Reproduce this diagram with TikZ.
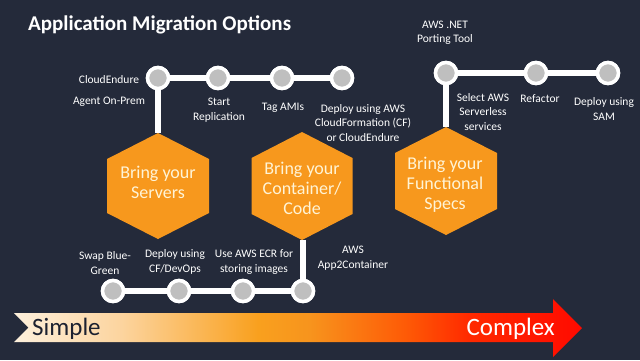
\documentclass[tikz,border=0pt]{standalone}
\usepackage{fontspec}
\setmainfont{Carlito}
\usetikzlibrary{calc}
\definecolor{bgnavy}{HTML}{242A3A}
\definecolor{dotgray}{HTML}{BFBFBF}
\definecolor{hexorange}{HTML}{F7981D}
\definecolor{hextext}{HTML}{FFF4D6}
\definecolor{sdark}{HTML}{1C2130}
\definecolor{gA}{HTML}{FDF0DC}
\definecolor{gB}{HTML}{FCD49E}
\definecolor{gC}{HTML}{F9A01E}
\definecolor{gD}{HTML}{F7941D}
\definecolor{gE}{HTML}{FE5A06}
\definecolor{gF}{HTML}{FF2A00}
\definecolor{gG}{HTML}{FF0A00}
\pgfdeclarehorizontalshading{migr}{100bp}{color(0bp)=(gA); color(25bp)=(gA); color(34.5bp)=(gB); color(46.5bp)=(gC); color(51bp)=(gD); color(59.5bp)=(gE); color(65bp)=(gF); color(75bp)=(gG); color(100bp)=(gG)}
\tikzset{
  dot/.style={circle, minimum size=21pt, inner sep=0pt, fill=dotgray, draw=white, line width=3.5pt},
  track/.style={draw=white, line width=6.5pt},
  lbl/.style={text=white, align=center, inner sep=0pt, font=\fontsize{11.5}{14.5}\selectfont},
  hexlbl/.style={text=hextext, align=center, inner sep=0pt, font=\fontsize{18}{20}\selectfont},
  hexshape/.style={fill=hexorange}
}
\begin{document}
\begin{tikzpicture}[x=1pt,y=-1pt]
\useasboundingbox (0,0) rectangle (640,360);
\fill[bgnavy] (0,0) rectangle (640,360);

% title
\node[anchor=base west, inner sep=0pt, text=white, font=\fontsize{21}{24}\selectfont\bfseries] (title) at (28,30) {Application Migration Options};

% dots
\node[dot] (a1) at (158,78) {};
\node[dot] (a2) at (218,78) {};
\node[dot] (a3) at (282,78) {};
\node[dot] (a4) at (342,78) {};
\node[dot] (f1) at (446,73) {};
\node[dot] (f2) at (536,73) {};
\node[dot] (f3) at (608,73) {};
\node[dot] (b1) at (113,291) {};
\node[dot] (b2) at (179,291) {};
\node[dot] (b3) at (243,291) {};
\node[dot] (b4) at (303,291) {};

\coordinate (servTop) at (158,133);
\coordinate (contBot) at (303,240);
\coordinate (funcTop) at (446,127);

% tracks
\draw[track] (a1.center) -- (a2.center) -- (a3.center) -- (a4.center);
\draw[track] (a1.center) -- (servTop);
\draw[track] (f1.center) -- (f2.center) -- (f3.center);
\draw[track] (f1.center) -- (funcTop);
\draw[track] (b1.center) -- (b2.center) -- (b3.center) -- (b4.center);
\draw[track] (b4.center) -- (contBot);
% redraw dots on top
\foreach \d in {a1,a2,a3,a4,f1,f2,f3,b1,b2,b3,b4}{
  \fill[dotgray] (\d) circle (10.5pt);
  \draw[white, line width=3.5pt] (\d) circle (10.5pt);
}

% hexagons
\fill[hexshape, shift={(158,186)}] (0,-53) -- (51,-27) -- (51,27) -- (0,53) -- (-51,27) -- (-51,-27) -- cycle;
\fill[hexshape, shift={(302,186)}] (0,-54) -- (50.5,-28) -- (50.5,28) -- (0,54) -- (-50.5,28) -- (-50.5,-28) -- cycle;
\fill[hexshape, shift={(446,181)}] (0,-54) -- (51,-28) -- (51,28) -- (0,54) -- (-51,28) -- (-51,-28) -- cycle;
\node[hexlbl] (servers) at (158,182) {Bring your\\Servers};
\node[hexlbl] (container) at (302,188) {Bring your\\Container/\\Code};
\node[hexlbl] (functional) at (445,185) {Bring your\\Functional\\Specs};

% labels
\node[lbl] (l1) at (109,80) {CloudEndure};
\node[lbl] (l2) at (109,102) {Agent On-Prem};
\node[lbl] (l3) at (219,110) {Start\\Replication};
\node[lbl] (l4) at (283,108) {Tag AMIs};
\node[lbl] (l5) at (363,123) {Deploy using AWS\\CloudFormation (CF)\\or CloudEndure};
\node[lbl] (l6) at (445,33) {AWS .NET\\Porting Tool};
\node[lbl] (l7) at (483,112) {Select AWS\\Serverless\\services};
\node[lbl] (l8) at (540,99) {Refactor};
\node[lbl] (l9) at (604,109) {Deploy using\\SAM};
\node[lbl] (l10) at (105,263) {Swap Blue-\\Green};
\node[lbl] (l11) at (175,262) {Deploy using\\CF/DevOps};
\node[lbl] (l12) at (254,262) {Use AWS ECR for\\storing images};
\node[lbl] (l13) at (353,258) {AWS\\App2Container};

% complexity arrow
\shade[shading=migr] (14,313) -- (553,313) -- (553,299) -- (582,328) -- (553,357) -- (553,342) -- (14,342) -- (28.5,327.5) -- cycle;
\node[anchor=west, inner sep=0pt, text=sdark, font=\fontsize{25}{27}\selectfont] (simple) at (32,329) {Simple};
\node[anchor=east, inner sep=0pt, text=white, font=\fontsize{25}{27}\selectfont] (complex) at (555,329) {Complex};
\end{tikzpicture}
\end{document}
